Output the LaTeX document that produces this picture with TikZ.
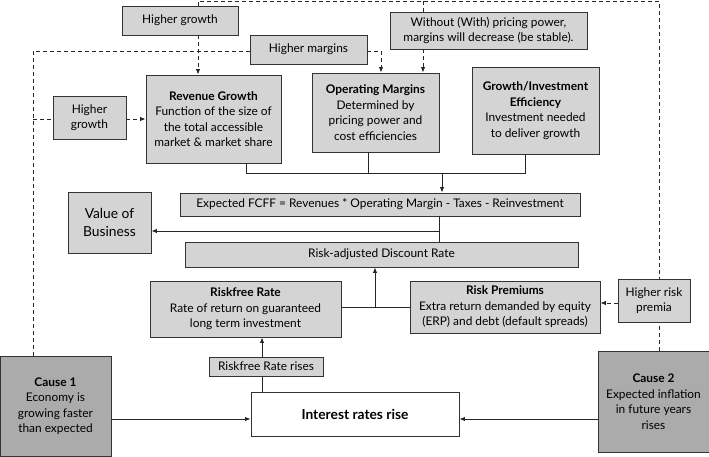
\documentclass[tikz,border=0pt]{standalone}
\usepackage{fontspec}
\setmainfont{Lato}
\usetikzlibrary{arrows.meta}
\definecolor{boxgray}{HTML}{D4D4D4}
\definecolor{causegray}{HTML}{ABABAB}
\definecolor{edgegray}{HTML}{333333}
\begin{document}
\begin{tikzpicture}
    [x=1pt,y=-1pt,
     box/.style={draw=edgegray,fill=boxgray,line width=0.9pt,align=center,inner sep=2pt,font=\fontsize{11.9}{15.5}\selectfont},
     cause/.style={box,fill=causegray},
     line/.style={line width=0.9pt,draw=black!85},
     arrow/.style={line,-{Latex[length=5.5pt,width=4.5pt]}},
     dashline/.style={line,dash pattern=on 4pt off 3pt},
     dasharrow/.style={dashline,-{Latex[length=5.5pt,width=4.5pt]}}]
    \useasboundingbox (0,0) rectangle (709,457);
    \node[box,minimum width=116pt,minimum height=29pt] (hgtop) at (180,20.5) {Higher growth};
    \node[box,minimum width=117pt,minimum height=29pt] (hmarg) at (308.5,49.5) {Higher margins};
    \node[box,minimum width=197pt,minimum height=37pt] (pricing) at (488.5,30.5) {Without (With) pricing power,\\margins will decrease (be stable).};
    \node[box,minimum width=73pt,minimum height=43pt] (hgleft) at (89.5,117.5) {Higher\\growth};
    \node[box,minimum width=135pt,minimum height=88pt] (revgrowth) at (213.5,119) {\textbf{Revenue Growth}\\Function of the size of\\the total accessible\\market \& market share};
    \node[box,minimum width=127pt,minimum height=79pt] (opmarg) at (375.5,112.5) {\textbf{Operating Margins}\\Determined by\\pricing power and\\cost efficiencies};
    \node[box,minimum width=127pt,minimum height=87pt] (growthinv) at (535.5,110.5) {\textbf{Growth/Investment}\\\textbf{Efficiency}\\Investment needed\\to deliver growth};
    \node[box,minimum width=400pt,minimum height=23pt] (fcff) at (380,204.5) {Expected FCFF = Revenues * Operating Margin - Taxes - Reinvestment};
    \node[box,minimum width=83pt,minimum height=61pt,font=\fontsize{13.8}{18}\selectfont] (value) at (109.5,222.5) {Value of\\Business};
    \node[box,minimum width=393pt,minimum height=25pt] (discount) at (381.5,254.5) {Risk-adjusted Discount Rate};
    \node[box,minimum width=191pt,minimum height=56pt] (riskfree) at (245.5,309) {\textbf{Riskfree Rate}\\Rate of return on guaranteed\\long term investment};
    \node[box,minimum width=190pt,minimum height=52pt] (riskprem) at (505,307) {\textbf{Risk Premiums}\\Extra return demanded by equity\\(ERP) and debt (default spreads)};
    \node[box,fill=white,minimum width=208pt,minimum height=44pt,font=\fontsize{13.8}{18}\selectfont\bfseries] (interest) at (355,414) {Interest rates rise};
    \node[cause,minimum width=111pt,minimum height=100pt] (cause1) at (55.5,406) {\textbf{Cause 1}\\Economy is\\growing faster\\than expected};
    \node[cause,minimum width=111pt,minimum height=101pt] (cause2) at (653.5,401.5) {\textbf{Cause 2}\\Expected inflation\\in future years\\rises};
    % feedback from cause 2 along the top
    \coordinate (topR) at (659,1);
    \coordinate (topL) at (198,1);
    \coordinate (topM) at (423,1);
    \draw[dashline] (cause2.north -| topR) -- (topR) -- (topL) -- (hgtop.north -| topL);
    \draw[dashline] (topM) -- (pricing.north -| topM);
    \draw[dasharrow] (hgtop.south -| topL) -- (revgrowth.north -| topL);
    \draw[dasharrow] (pricing.south -| topM) -- (opmarg.north -| topM);
    % feedback from cause 1 on the left
    \coordinate (leftT) at (33,51);
    \coordinate (leftM) at (33,119);
    \coordinate (margR) at (381,51);
    \draw[dashline] (cause1.north -| leftT) -- (leftT) -- (hmarg.west |- leftT);
    \draw[dashline] (leftM) -- (hgleft.west |- leftM);
    \draw[dasharrow] (hgleft.east |- leftM) -- (revgrowth.west |- leftM);
    \draw[dasharrow] (hmarg.east |- margR) -- (margR) -- (opmarg.north -| margR);
    % cash flow inputs
    \coordinate (busL) at (246,173);
    \coordinate (busM) at (368,173);
    \coordinate (busR) at (525,173);
    \coordinate (busA) at (442,173);
    \draw[line] (revgrowth.south -| busL) -- (busL) -- (busR) -- (growthinv.south -| busR);
    \draw[line] (opmarg.south -| busM) -- (busM);
    \draw[arrow] (busA) -- (fcff.north -| busA);
    % value
    \coordinate (valJ) at (439,231);
    \draw[line] (fcff.south -| valJ) -- (discount.north -| valJ);
    \draw[arrow] (valJ) -- (value.east |- valJ);
    % discount rate
    \coordinate (rateJ) at (375,307);
    \draw[line] (riskfree.east |- rateJ) -- (riskprem.west |- rateJ);
    \draw[arrow] (rateJ) -- (discount.south -| rateJ);
    % causes
    \coordinate (irJ) at (262,419);
    \draw[arrow] (cause1.east |- irJ) -- (interest.west |- irJ);
    \draw[arrow] (cause2.west |- irJ) -- (interest.east |- irJ);
    \draw[arrow] (interest.north -| irJ) -- (riskfree.south -| irJ);
    \node[box,minimum width=114pt,minimum height=19pt] (rfrises) at (266,366.5) {Riskfree Rate rises};
    \node[box,minimum width=72pt,minimum height=43pt] (hrisk) at (654,300.5) {Higher risk\\premia};
    \coordinate (premJ) at (609,303);
    \draw[dasharrow] (hrisk.west |- premJ) -- (riskprem.east |- premJ);
\end{tikzpicture}
\end{document}
